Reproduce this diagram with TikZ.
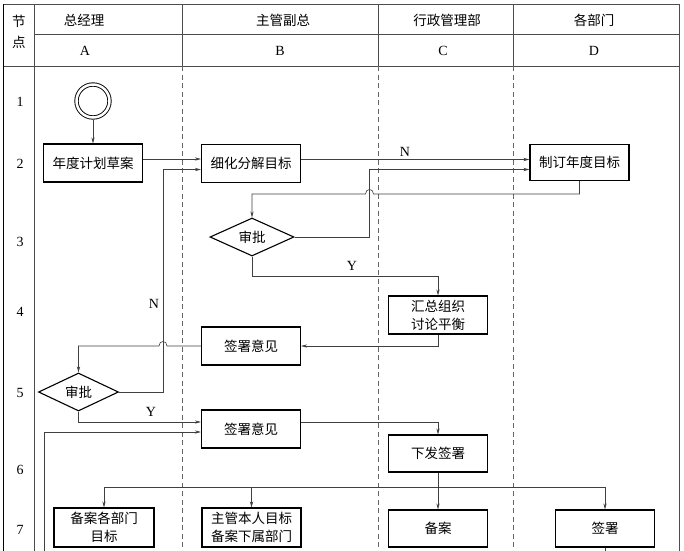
\documentclass[tikz,border=0pt]{standalone}
\usepackage{fontspec}
\setmainfont{Liberation Serif}
\newfontfamily\cjk{Noto Sans CJK SC}
\usetikzlibrary{shapes.geometric, arrows.meta, positioning}

\tikzset{
    box/.style={draw, line width=1.1pt, minimum width=99pt, minimum height=38pt, inner sep=1pt, align=center, font=\cjk\fontsize{13.5}{18}\selectfont},
    check/.style={draw, diamond, aspect=2.2, line width=1.1pt, minimum width=84pt, minimum height=38pt, inner sep=0pt, font=\cjk\fontsize{13.5}{18}\selectfont},
    startnode/.style={draw, circle, double, double distance=2.5pt, line width=0.9pt, minimum size=33pt, inner sep=0pt, outer sep=2.2pt},
    flow/.style={line width=0.6pt, black!75, -{Stealth[length=6pt,width=3.2pt]}},
    link/.style={line width=0.6pt, black!75},
    lane/.style={black!60, line width=0.6pt, dash pattern=on 5pt off 3.5pt},
    headtext/.style={font=\cjk\fontsize{13.5}{21}\selectfont, align=center},
    lettertag/.style={font=\fontsize{14}{16}\selectfont, inner sep=1pt}
}

\begin{document}
\begin{tikzpicture}[x=1pt, y=-1pt]
    \useasboundingbox (0,0) rectangle (684,550);

    % frame and lanes
    \draw[line width=1.5pt] (3.5,4) -- (3.5,560);
    \draw[black!70, line width=0.7pt] (3.5,4) -- (679,4) -- (679,560);
    \draw[black!70, line width=0.7pt] (3.5,66) -- (679,66);
    \draw[black!70, line width=0.6pt] (34,34) -- (679,34);
    \draw[black!70, line width=0.6pt] (34,4) -- (34,560);
    \foreach \x in {182.5,378,513} {
        \draw[black!70, line width=0.6pt] (\x,4) -- (\x,66);
        \draw[lane] (\x,66) -- (\x,560);
    }

    % header
    \node[headtext] (nodehead) at (19,32) {节\\点};
    \node[headtext] (headA) at (84,20) {总经理};
    \node[headtext] (headB) at (283,20) {主管副总};
    \node[headtext] (headC) at (447,20) {行政管理部};
    \node[headtext] (headD) at (594,20) {各部门};
    \node[lettertag] (colA) at (85,51) {A};
    \node[lettertag] (colB) at (280,51) {B};
    \node[lettertag] (colC) at (443,51) {C};
    \node[lettertag] (colD) at (594,51) {D};
    \foreach \r/\y in {1/102,2/164,3/242,4/312,5/393,6/470,7/530}
        \node[lettertag] (row\r) at (20,\y) {\r};

    % steps
    \node[startnode] (start) at (93,101) {};
    \node[box] (draft) at (93,163) {年度计划草案};
    \node[box] (refine) at (251,163.5) {细化分解目标};
    \node[box, minimum height=36pt] (dept) at (579.5,162.5) {制订年度目标};
    \node[check] (checkB) at (252,237) {审批};
    \node[box] (summary) at (438,315) {汇总组织\\讨论平衡};
    \node[box] (signB) at (251,346) {签署意见};
    \node[check, minimum width=80pt] (checkA) at (78.5,392) {审批};
    \node[box] (signB2) at (251,429) {签署意见};
    \node[box, minimum height=37pt] (issue) at (438,453.5) {下发签署};
    \node[box, minimum width=100pt, minimum height=39pt] (fileA) at (104,527.5) {备案各部门\\目标};
    \node[box, minimum height=39pt] (fileB) at (251.5,527.5) {主管本人目标\\备案下属部门};
    \node[box, minimum height=37pt] (fileC) at (438,528.5) {备案};
    \node[box, minimum height=37pt] (signD) at (605,528.5) {签署};

    \coordinate (jogA) at (163,0);
    \coordinate (jogB) at (369.5,0);
    \coordinate (backB) at (0,194);
    \coordinate (fork) at (0,487);
    \coordinate (lower) at (44,560);

    % connectors
    \draw[flow] (start) -- (draft);
    \draw[flow] ([yshift=4pt]draft.east) -- ([yshift=4pt]draft.east -| refine.west);
    \draw[flow] ([yshift=4pt]refine.east) -- ([yshift=4pt]refine.east -| dept.west);
    \node[lettertag] (labN1) at (405,152) {N};
    \draw[flow] (checkB.east) -| ([yshift=-6pt]refine.east -| jogB) -- ([yshift=-6pt]refine.east -| dept.west);
    \draw[flow] (dept.south) |- ([xshift=4pt]jogB |- backB)
        .. controls ([xshift=4pt,yshift=6pt]jogB |- backB) and ([xshift=-4pt,yshift=6pt]jogB |- backB) .. ([xshift=-4pt]jogB |- backB)
        -| (checkB.north);
    \draw[flow] (checkB.south) -- ++(0,20) -| (summary.north);
    \node[lettertag] (labY1) at (352,266) {Y};
    \draw[flow] (summary.south) |- (signB.east);
    \draw[flow] (signB.west) -- ([xshift=4pt]jogA |- signB.west)
        .. controls ([xshift=4pt,yshift=6pt]jogA |- signB.west) and ([xshift=-4pt,yshift=6pt]jogA |- signB.west) .. ([xshift=-4pt]jogA |- signB.west)
        -| (checkA.north);
    \draw[flow] (checkA.east) -| ([yshift=-6pt]refine.west -| jogA) -- ([yshift=-6pt]refine.west);
    \node[lettertag] (labN2) at (154,304) {N};
    \draw[flow] (checkA.south) |- ([yshift=7pt]signB2.west);
    \node[lettertag] (labY2) at (151,412) {Y};
    \draw[flow] (lower) |- ([yshift=-3pt]signB2.west);
    \draw[flow] ([yshift=7pt]signB2.east) -| (issue.north);
    \draw[flow] (issue.south) -- (fileC.north);
    \draw[link] (fileA.north |- fork) -- (signD.north |- fork);
    \foreach \n in {fileA,fileB,signD}
        \draw[flow] (\n.north |- fork) -- (\n.north);
    \draw[link] (signD.south) -- ++(0,12);
\end{tikzpicture}
\end{document}
